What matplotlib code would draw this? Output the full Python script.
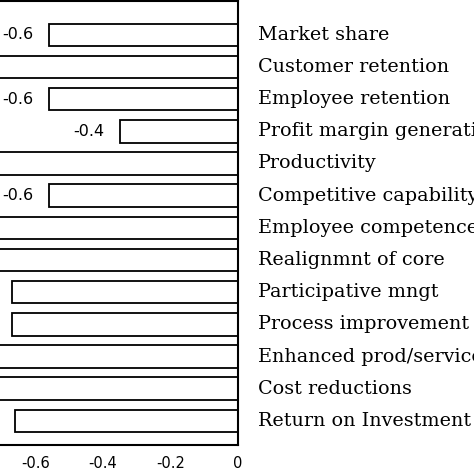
import matplotlib
matplotlib.use("Agg")
import matplotlib.pyplot as plt

categories = ["Market share", "Customer retention", "Employee retention",
              "Profit margin generation", "Productivity", "Competitive capability",
              "Employee competence", "Realignmnt of core", "Participative mngt",
              "Process improvement", "Enhanced prod/service", "Cost reductions",
              "Return on Investment"]
values = [-0.56, -0.8, -0.56, -0.35, -0.8, -0.56, -0.8, -0.8, -0.67, -0.67, -0.8, -0.8, -0.66]
bar_labels = ["-0.6", "", "-0.6", "-0.4", "", "-0.6", "", "", "", "", "", "", ""]
ticks = [-0.6, -0.4, -0.2, 0]
tick_labels = ["-0.6", "-0.4", "-0.2", "0"]

fig = plt.figure(figsize=(4.74, 4.74), dpi=100)
ax = fig.add_axes([0, 474 - 445 and (474 - 445) / 474, 0.502, 444 / 474])
y = list(range(len(categories)))
ax.barh(y, values, height=0.7, color="white", edgecolor="black", linewidth=1.3)
for yi, v, lab in zip(y, values, bar_labels):
    if lab:
        ax.text(v - 0.045, yi, lab, ha="right", va="center", fontsize=11.5, family="DejaVu Sans")
ax.set_xlim(-0.705, 0.0)
ax.set_ylim(12.75, -1.05)
ax.set_yticks([])
ax.set_xticks(ticks)
ax.set_xticklabels(tick_labels, fontsize=10.5)
ax.tick_params(axis="x", length=0, pad=8)
ax.spines["left"].set_visible(False)
for s in ["top", "bottom", "right"]:
    ax.spines[s].set_linewidth(1.5)
for yi, c in zip(y, categories):
    ax.text(1.085, yi, c, transform=ax.get_yaxis_transform(), ha="left", va="center",
            fontsize=13.8, family="DejaVu Serif", clip_on=False)
fig.savefig("out.png", dpi=100)
